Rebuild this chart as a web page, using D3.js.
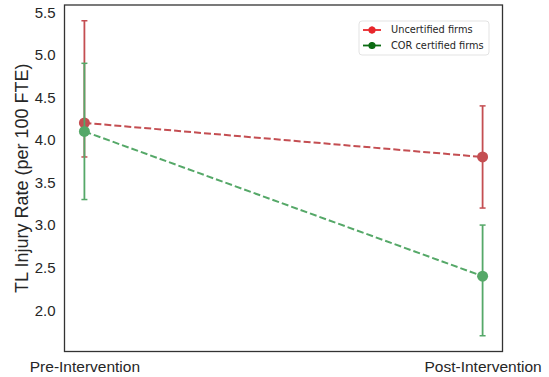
<!DOCTYPE html>
<html>
<head>
<meta charset="utf-8">
<script src="https://cdn.jsdelivr.net/npm/d3@7"></script>
<style>
  body { margin: 0; background: #fff; }
  svg { display: block; font-family: "Liberation Sans", Arial, sans-serif; }
</style>
</head>
<body>
<script>
// data
var phases = ['Pre-Intervention', 'Post-Intervention'];
var seriesNames = ['Uncertified firms', 'COR certified firms'];
var uncertMean = [4.2, 3.8];
var uncertLow = [3.8, 3.2];
var uncertHigh = [5.4, 4.4];
var corMean = [4.1, 2.4];
var corLow = [3.3, 1.7];
var corHigh = [4.9, 3.0];
var yTicks = [2.0, 2.5, 3.0, 3.5, 4.0, 4.5, 5.0, 5.5];

var lineColors = ['#c44e52', '#55a868'];
var legendColors = ['#e8262b', '#0b6b12'];

var series = [
  { name: seriesNames[0], mean: uncertMean, low: uncertLow, high: uncertHigh },
  { name: seriesNames[1], mean: corMean, low: corLow, high: corHigh }
];

var W = 549, H = 377;
// plot frame (named so they don't clash with window.top)
var pL = 64.5, pR = 502.5, pT = 5, pB = 351.5;

var svg = d3.select('body').append('svg')
  .attr('width', W)
  .attr('height', H);

// matplotlib style margins on both axes
var x = d3.scaleLinear().domain([-0.05, 1.05]).range([pL, pR]);
var y = d3.scaleLinear().domain([1.515, 5.585]).range([pB, pT]);

// y tick labels, no tick marks
var yAxis = svg.append('g')
  .attr('transform', 'translate(' + pL + ',0)')
  .call(d3.axisLeft(y).tickValues(yTicks).tickFormat(d3.format('.1f')).tickSize(0).tickPadding(9));
yAxis.select('.domain').remove();
yAxis.selectAll('text')
  .attr('font-size', 15)
  .attr('fill', '#262626')
  .attr('font-family', '"Liberation Sans", Arial, sans-serif');

// x labels
var xAxis = svg.append('g')
  .attr('transform', 'translate(0,' + pB + ')')
  .call(d3.axisBottom(x).tickValues([0, 1]).tickFormat(function(d){ return phases[d]; }).tickSize(0).tickPadding(9));
xAxis.select('.domain').remove();
xAxis.selectAll('text')
  .attr('font-size', 15.5)
  .attr('fill', '#262626')
  .attr('font-family', '"Liberation Sans", Arial, sans-serif');

// y label
svg.append('text')
  .attr('transform', 'translate(22,' + ((pT + pB) / 2) + ') rotate(-90)')
  .attr('text-anchor', 'middle')
  .attr('dy', '0.35em')
  .attr('font-size', 18)
  .attr('fill', '#262626')
  .text('TL Injury Rate (per 100 FTE)');

// each series: error bars, dashed line, markers
series.forEach(function(s, k) {
  var g = svg.append('g');
  var col = lineColors[k];
  var idx = d3.range(s.mean.length);

  g.selectAll('line.err')
    .data(idx).enter().append('line')
    .attr('x1', function(i){ return x(i); })
    .attr('x2', function(i){ return x(i); })
    .attr('y1', function(i){ return y(s.low[i]); })
    .attr('y2', function(i){ return y(s.high[i]); })
    .attr('stroke', col)
    .attr('stroke-width', 1.8);

  ['low', 'high'].forEach(function(key) {
    g.selectAll('line.cap' + key)
      .data(idx).enter().append('line')
      .attr('x1', function(i){ return x(i) - 3; })
      .attr('x2', function(i){ return x(i) + 3; })
      .attr('y1', function(i){ return y(s[key][i]); })
      .attr('y2', function(i){ return y(s[key][i]); })
      .attr('stroke', col)
      .attr('stroke-width', 1.5);
  });

  g.append('path')
    .datum(idx)
    .attr('d', d3.line().x(function(i){ return x(i); }).y(function(i){ return y(s.mean[i]); }))
    .attr('fill', 'none')
    .attr('stroke', col)
    .attr('stroke-width', 2)
    .attr('stroke-dasharray', '7,3');

  g.selectAll('circle')
    .data(idx).enter().append('circle')
    .attr('cx', function(i){ return x(i); })
    .attr('cy', function(i){ return y(s.mean[i]); })
    .attr('r', 5.5)
    .attr('fill', col);
});

// frame
svg.append('rect')
  .attr('x', pL).attr('y', pT)
  .attr('width', pR - pL).attr('height', pB - pT)
  .attr('fill', 'none')
  .attr('stroke', '#333')
  .attr('stroke-width', 1.3);

// legend
var lg = svg.append('g');
lg.append('rect')
  .attr('x', 359).attr('y', 21)
  .attr('width', 130).attr('height', 34)
  .attr('rx', 3)
  .attr('fill', '#fff')
  .attr('stroke', '#dcdcdc')
  .attr('stroke-width', 0.8);

var rows = lg.selectAll('g.row')
  .data(series).enter().append('g')
  .attr('transform', function(d, i){ return 'translate(0,' + (30 + i * 15.5) + ')'; });

rows.append('line')
  .attr('x1', 363).attr('x2', 381).attr('y1', 0).attr('y2', 0)
  .attr('stroke', function(d, i){ return legendColors[i]; })
  .attr('stroke-width', 1.8);
rows.append('line')
  .attr('x1', 372).attr('x2', 372).attr('y1', -3.5).attr('y2', 3.5)
  .attr('stroke', function(d, i){ return legendColors[i]; })
  .attr('stroke-width', 1.5);
rows.append('circle')
  .attr('cx', 372).attr('cy', 0).attr('r', 3.6)
  .attr('fill', function(d, i){ return legendColors[i]; });
rows.append('text')
  .attr('x', 391).attr('y', 0)
  .attr('dy', '0.35em')
  .attr('font-size', 9.8)
  .attr('fill', '#262626')
  .attr('font-family', '"DejaVu Sans", sans-serif')
  .text(function(d){ return d.name; });
</script>
</body>
</html>
